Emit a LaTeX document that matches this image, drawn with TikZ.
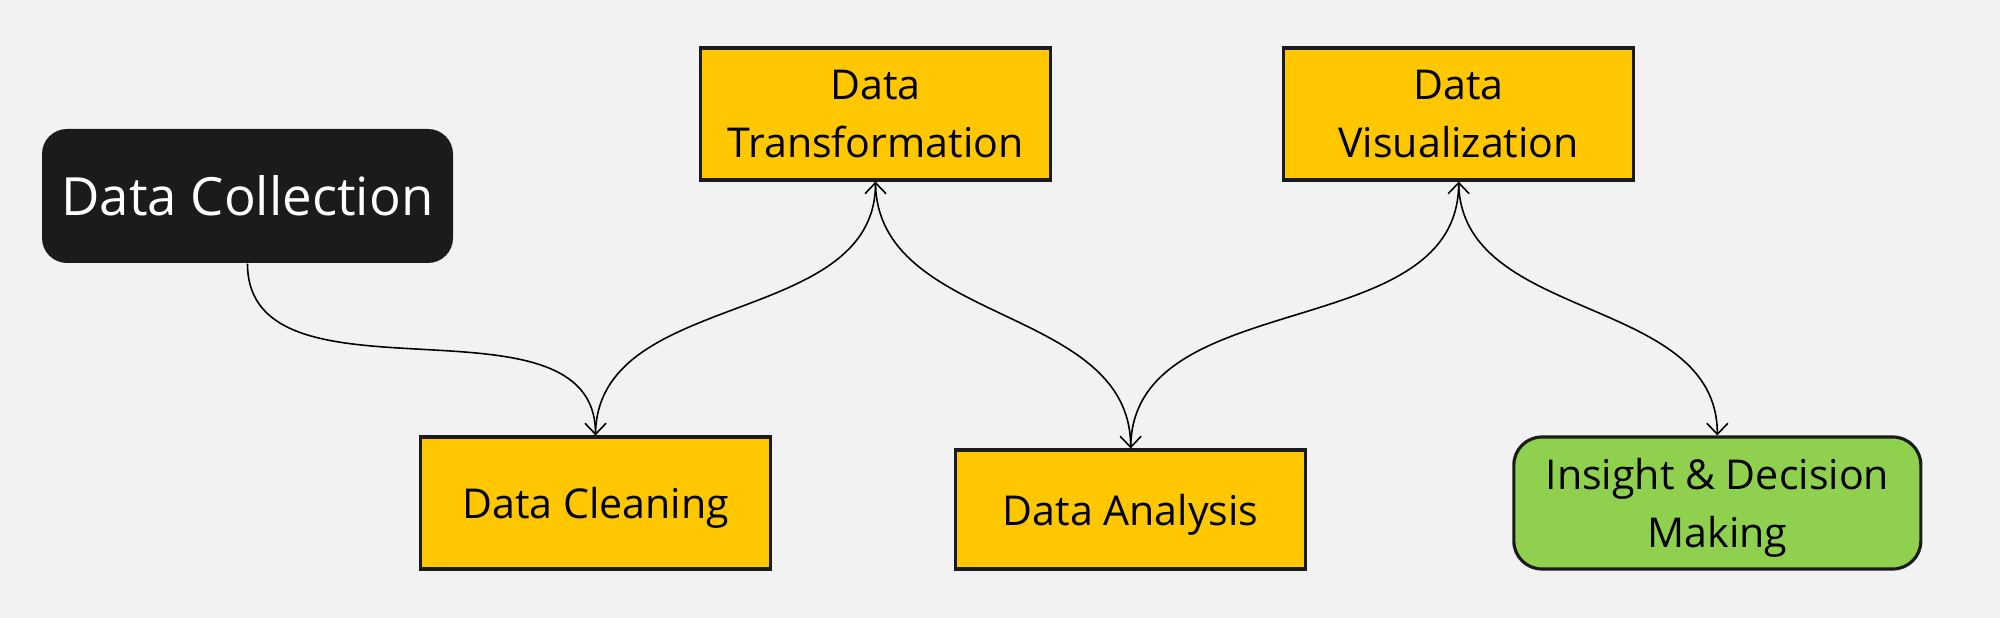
\documentclass[tikz,border=0pt]{standalone}
\usepackage{fontspec}
\setmainfont{Open Sans}
\usetikzlibrary{positioning, arrows.meta}
\definecolor{bggray}{HTML}{F2F2F2}
\definecolor{stageyellow}{HTML}{FFC700}
\definecolor{outgreen}{HTML}{8FD14F}
\definecolor{darkfill}{HTML}{1B1B1B}
\tikzset{
  stage/.style={
    draw=darkfill,
    line width=0.9pt,
    fill=stageyellow,
    minimum width=3.5cm,
    minimum height=1.32cm,
    inner sep=0pt,
    text depth=0pt,
    align=center,
    font=\fontsize{11.7}{16.5}\selectfont
  },
  flow/.style={
    line width=0.45pt,
    -{Straight Barb[length=1.1mm, width=2.1mm]}
  }
}

\begin{document}
\begin{tikzpicture}
      \fill[bggray] (0,0) rectangle (20,6.18);
      \useasboundingbox (0,0) rectangle (20,6.18);

      \node[fill=darkfill, text=white, rounded corners=0.25cm, minimum width=4.11cm, minimum height=1.34cm, font=\fontsize{15}{19}\selectfont] (collect) at (2.475,4.22) {Data Collection};

      \node[stage] (clean) at (5.955,1.15) {Data Cleaning};
      \node[stage, minimum height=1.19cm, right=1.82cm of clean.south east, anchor=south west] (analysis) {Data Analysis};
      \node[stage, fill=outgreen, rounded corners=0.28cm, minimum width=4.07cm, right=2.05cm of analysis.south east, anchor=south west] (insight) {Insight \& Decision\\Making};

      \node[stage] (transform) at (8.755,5.04) {Data\\Transformation};
      \node[stage, right=2.3cm of transform] (visual) {Data\\Visualization};

      % Arrows
      \draw[flow] (collect.south) to[out=-90, in=90] (clean.north);
      \draw[flow] (clean.north) to[out=90, in=-90] (transform.south);
      \draw[flow] (transform.south) to[out=-90, in=90] (analysis.north);
      \draw[flow] (analysis.north) to[out=90, in=-90] (visual.south);
      \draw[flow] (visual.south) to[out=-90, in=90] (insight.north);
    \end{tikzpicture}
\end{document}
